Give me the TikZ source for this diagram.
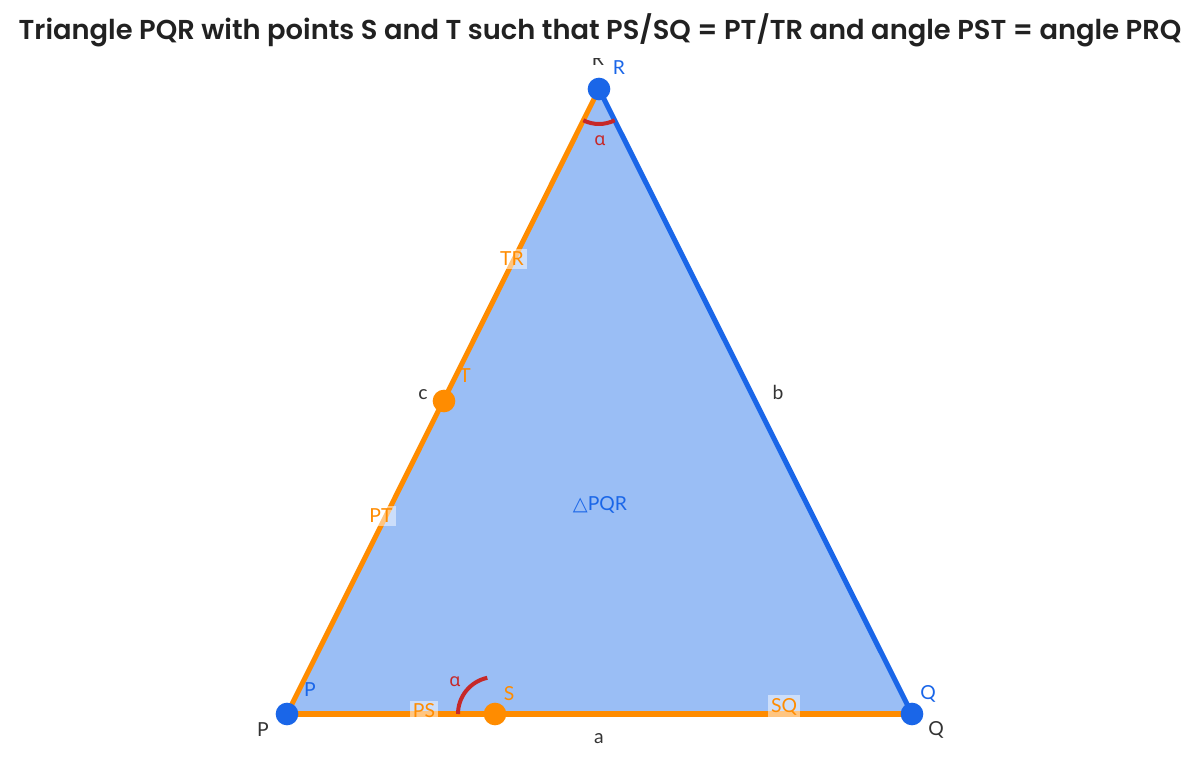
\documentclass[tikz,border=0pt]{standalone}
\usepackage{fontspec}
\setmainfont{Poppins}[BoldFont={Poppins SemiBold}]
\newfontfamily\lblfont{Lato}
\newfontfamily\greekfont{Noto Sans}
\newfontfamily\symfont{DejaVu Sans}
\definecolor{fillblue}{HTML}{9ABEF5}
\definecolor{edgeblue}{HTML}{1A66E8}
\definecolor{segorange}{HTML}{FF8C00}
\definecolor{anglered}{HTML}{C62828}
\definecolor{labelgray}{HTML}{333333}
\tikzset{
  px/.style={x=0.75pt,y=-0.75pt},
  lbl/.style={font=\lblfont\fontsize{14.5}{17}\selectfont, inner sep=1pt},
  alpha/.style={font=\greekfont\fontsize{13.5}{16}\selectfont, inner sep=1pt, text=anglered},
  seglbl/.style={lbl, text=segorange, fill=white, fill opacity=0.5, text opacity=1, inner sep=2.5pt},
  dotblue/.style={circle, fill=edgeblue, minimum size=17pt, inner sep=0pt},
  dotorange/.style={circle, fill=segorange, minimum size=17pt, inner sep=0pt},
  edge/.style={line width=3.8pt},
  anglearc/.style={anglered, line width=3pt}
}
\begin{document}
\begin{tikzpicture}[px]
\useasboundingbox (0,0) rectangle (1200,763);
\coordinate (P) at (287,714);
\coordinate (Q) at (912,714);
\coordinate (R) at (599,89);
\coordinate (T) at (444,401);
\coordinate (S) at (495,714);
% fill
\fill[fillblue] (P) -- (Q) -- (R) -- cycle;
% edges
\draw[edge, edgeblue] (Q) -- (R);
\draw[edge, segorange] (P) -- (Q);
\draw[edge, segorange] (P) -- (R);
% angle arcs
\draw[anglearc] (R) ++(116.5:35) arc[start angle=116.5, end angle=63.4, radius=35];
\draw[anglearc] (S) ++(180:37) arc[start angle=180, end angle=258, radius=37];
% dots
\node[dotblue] (Pd) at (P) {};
\node[dotblue] (Qd) at (Q) {};
\node[dotblue] (Rd) at (R) {};
\node[dotorange] (Td) at (T) {};
\node[dotorange] (Sd) at (S) {};
% labels
\node[lbl, text=labelgray] (Rk) at (598,59) {R};
\fill[white] (0,0) rectangle (1200,58);
\node[font=\bfseries\fontsize{20.5}{24}\selectfont, text=black!87] (title) at (600,30) {Triangle PQR with points S and T such that PS/SQ = PT/TR and angle PST = angle PRQ};
\node[lbl, text=edgeblue] (Rl) at (619,68) {R};
\node[lbl, text=edgeblue] (Pl) at (310,690) {P};
\node[lbl, text=labelgray] (Pk) at (263,730) {P};
\node[lbl, text=edgeblue] (Ql) at (928,694) {Q};
\node[lbl, text=labelgray] (Qk) at (936,730) {Q};
\node[lbl, text=labelgray] (cl) at (423,395) {c};
\node[lbl, text=segorange] (Tl) at (465,376) {T};
\node[lbl, text=labelgray] (bl) at (778,392) {b};
\node[lbl, text=labelgray] (al) at (599,739) {a};
\node[lbl, text=segorange] (Sl) at (509,694) {S};
\node[alpha] (alR) at (600,141) {α};
\node[alpha] (alS) at (455,682) {α};
\node[seglbl] (TRl) at (512,259) {TR};
\node[seglbl] (PTl) at (381,516) {PT};
\node[seglbl] (PSl) at (424,711) {PS};
\node[seglbl] (SQl) at (784,707) {SQ};
\node[lbl, text=edgeblue] (tri) at (600,505) {{\symfont △}PQR};
\end{tikzpicture}
\end{document}
